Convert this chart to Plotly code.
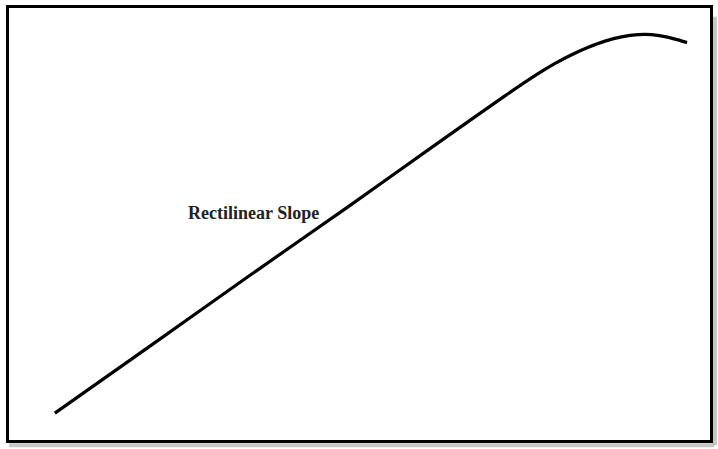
import plotly.graph_objects as go

# strain-like (x) and stress-like (y) values (arbitrary units)
strain = [46, 141, 241, 341, 431, 497.7, 531, 547.7, 564.3, 581, 597.7, 614.3, 631, 644.3, 657.7, 671, 680]
stress = [27, 94, 165, 235, 299, 346, 368.3, 378.3, 387, 394.5, 400.7, 405, 407.2, 407.2, 405.3, 402, 399.2]

label_text = "Rectilinear Slope"
label_x = 245
label_y = 228

fig = go.Figure()
fig.add_trace(go.Scatter(
    x=strain, y=stress, mode="lines",
    line=dict(color="black", width=3.2, shape="spline", smoothing=0.5),
    hoverinfo="skip", showlegend=False,
))

fig.add_annotation(
    x=label_x, y=label_y, xref="x", yref="y", text="<b>" + label_text + "</b>",
    showarrow=False, xanchor="center", yanchor="middle",
    font=dict(family="Liberation Serif, Times New Roman, serif", size=18, color="#222222"),
)

# soft shadow of the frame (right and bottom)
fig.add_shape(type="line", xref="paper", yref="paper", x0=0.0, x1=1.006, y0=-0.012, y1=-0.012,
              line=dict(color="rgba(160,160,160,0.6)", width=4), layer="below")
fig.add_shape(type="line", xref="paper", yref="paper", x0=1.007, x1=1.007, y0=-0.012, y1=0.98,
              line=dict(color="rgba(160,160,160,0.6)", width=4), layer="below")

axis_common = dict(showline=True, mirror=True, linecolor="black", linewidth=3,
                   showgrid=False, zeroline=False, showticklabels=False, ticks="")
fig.update_xaxes(range=[0, 703], **axis_common)
fig.update_yaxes(range=[0, 434], **axis_common)

fig.update_layout(
    width=718, height=449,
    margin=dict(l=9, r=6, t=5, b=9),
    paper_bgcolor="white", plot_bgcolor="white",
    showlegend=False,
)

fig.write_html("out.html", config={"displayModeBar": False},
               post_script="document.body.style.margin='0';document.body.style.overflow='hidden';")
